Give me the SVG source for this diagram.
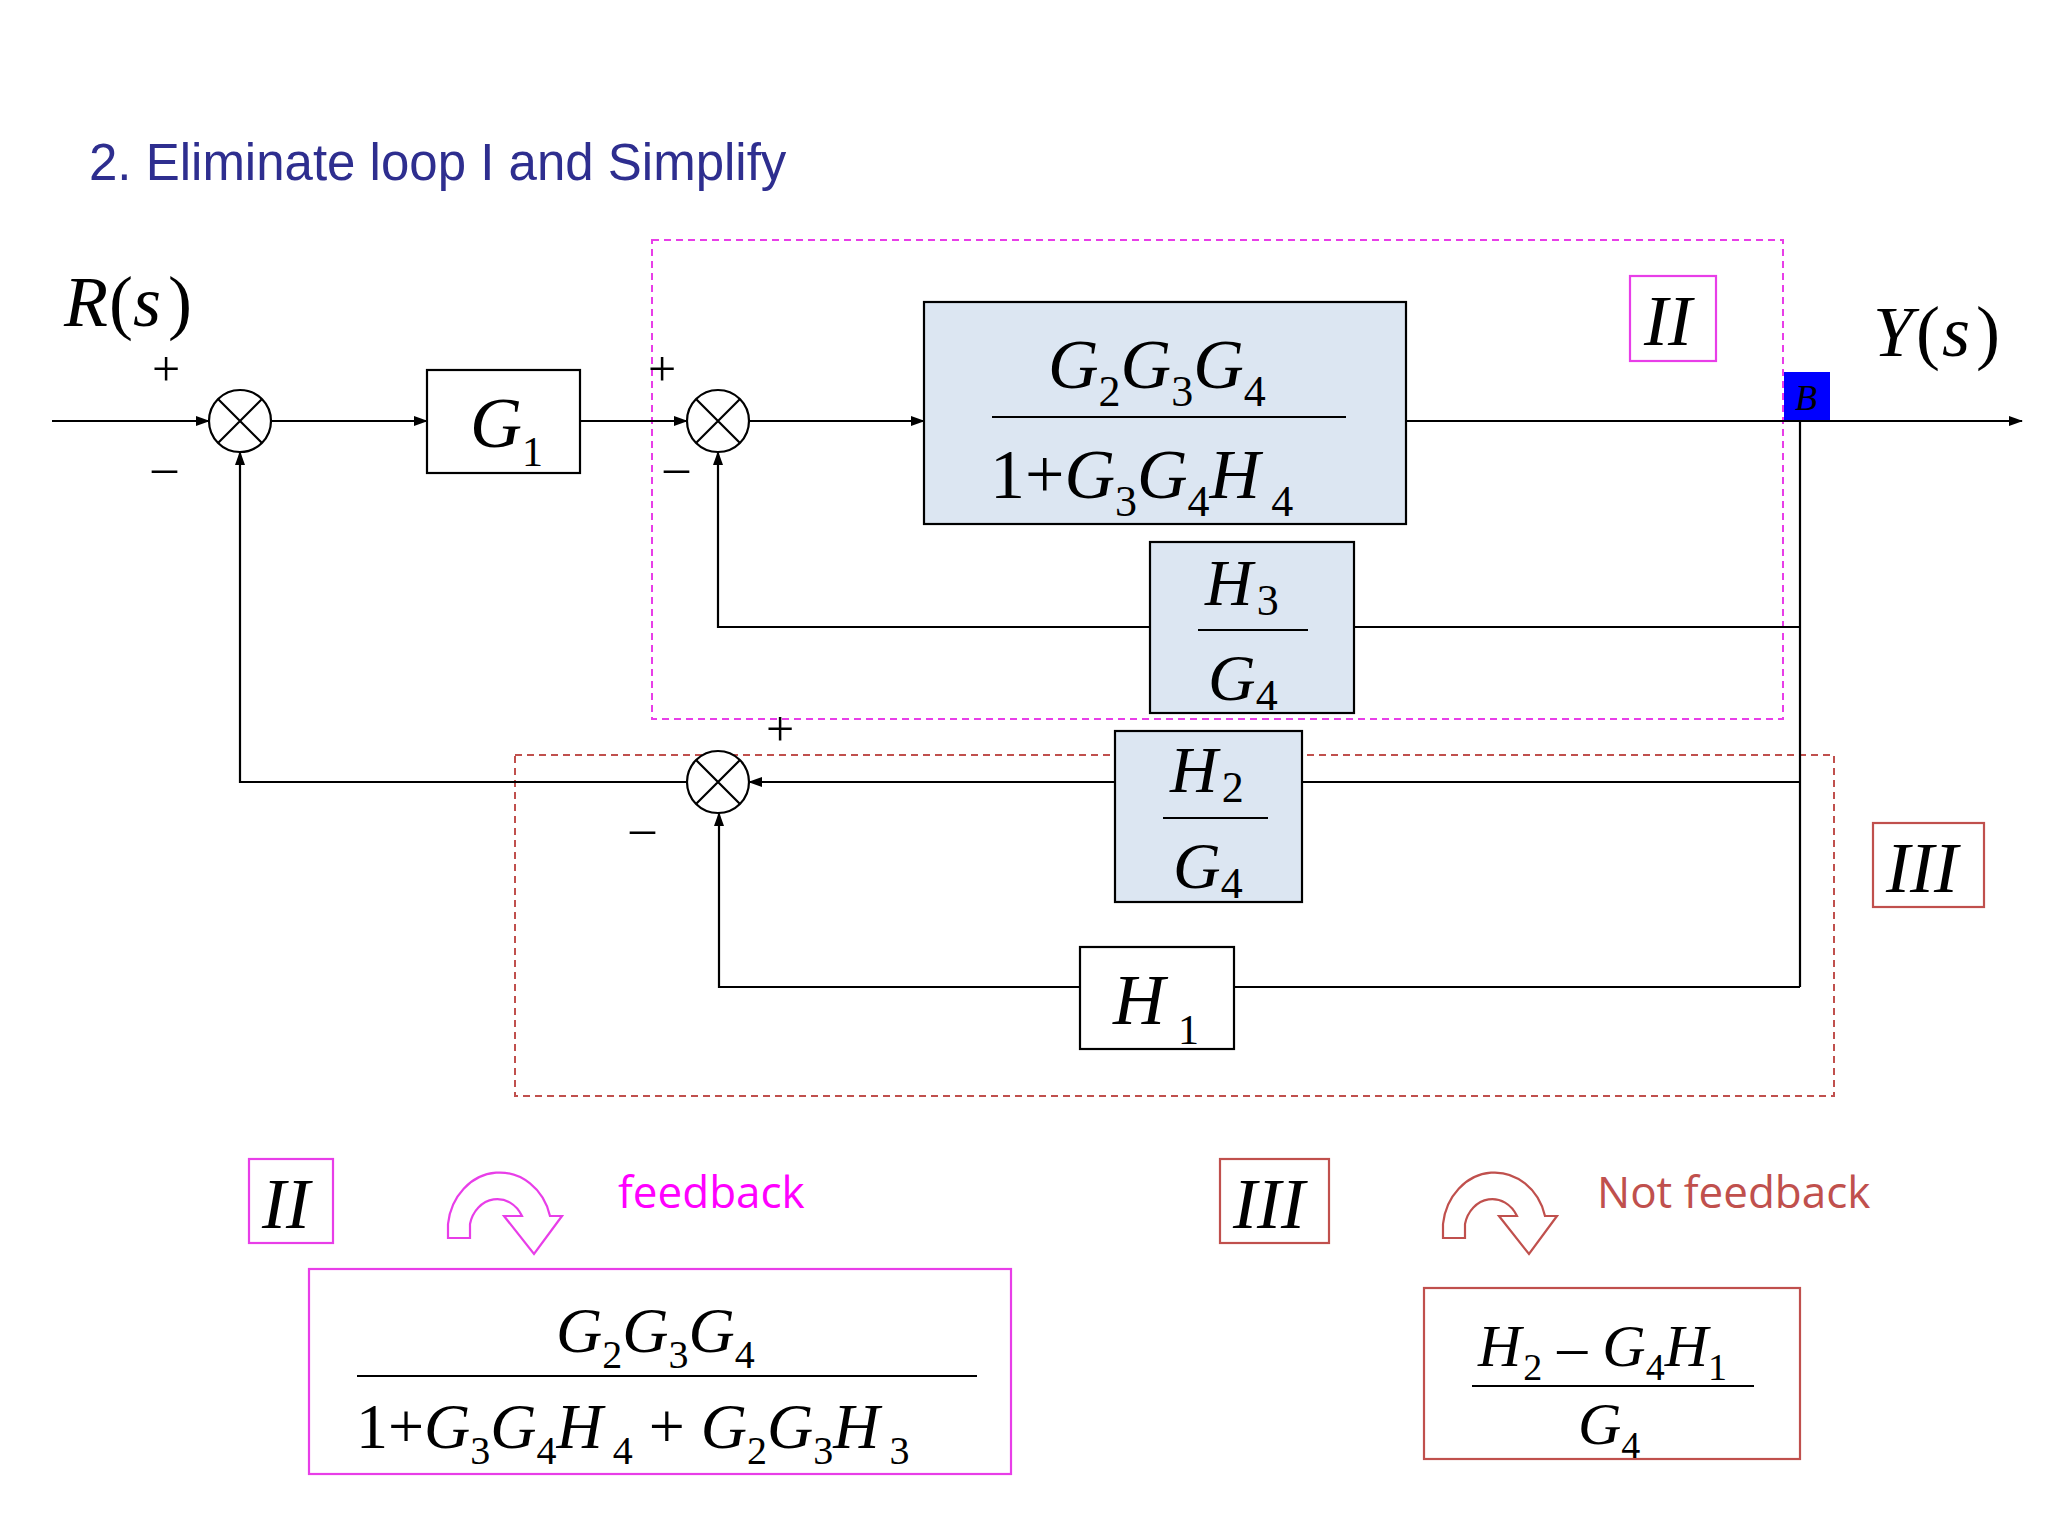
<svg xmlns="http://www.w3.org/2000/svg" width="2048" height="1536" viewBox="0 0 2048 1536">
<defs>
<marker id="ah" markerWidth="14" markerHeight="10" refX="13" refY="5" orient="auto" markerUnits="userSpaceOnUse"><path d="M0,0 L14,5 L0,10 Z" fill="#000"/></marker>
<path id="uturn" d="M2,74 L2,60 A52,58 0 0 1 104,52 L116,52 L88,90 L58,52 L76,52 A28,32 0 0 0 24,60 L24,74 Z"/>
</defs>
<style>
.m{font-family:"Liberation Serif",serif;font-style:italic;fill:#000}
.n{font-family:"Liberation Serif",serif;font-style:normal;fill:#000}
.ln{stroke:#000;stroke-width:2.2;fill:none}
.blk{fill:#dce6f2;stroke:#000;stroke-width:2.2}
.wb{fill:#fff;stroke:#000;stroke-width:2.2}
</style>
<rect width="2048" height="1536" fill="#fff"/>
<text x="89" y="180" font-family="Liberation Sans,Arial,sans-serif" font-size="51" fill="#2e2e8f">2. Eliminate loop I and Simplify</text>

<g id="regions">
<rect x="652" y="240" width="1131" height="479" fill="none" stroke="#e83ee8" stroke-width="2" stroke-dasharray="7,5"/>
<rect x="515" y="755" width="1319" height="341" fill="none" stroke="#c0504d" stroke-width="2" stroke-dasharray="7,5"/>
</g>

<g id="connectors">
<line class="ln" x1="52" y1="421" x2="209" y2="421" marker-end="url(#ah)"/>
<line class="ln" x1="271" y1="421" x2="427" y2="421" marker-end="url(#ah)"/>
<line class="ln" x1="580" y1="421" x2="687" y2="421" marker-end="url(#ah)"/>
<line class="ln" x1="749" y1="421" x2="924" y2="421" marker-end="url(#ah)"/>
<line class="ln" x1="1406" y1="421" x2="2022" y2="421" marker-end="url(#ah)"/>
<line class="ln" x1="1800" y1="421" x2="1800" y2="987"/>
<polyline class="ln" points="1800,627 1354,627"/>
<polyline class="ln" points="1150,627 718,627 718,452" marker-end="url(#ah)"/>
<polyline class="ln" points="1800,782 1302,782"/>
<line class="ln" x1="1115" y1="782" x2="749" y2="782" marker-end="url(#ah)"/>
<polyline class="ln" points="1800,987 1234,987"/>
<polyline class="ln" points="1080,987 719,987 719,813" marker-end="url(#ah)"/>
<polyline class="ln" points="687,782 240,782 240,452" marker-end="url(#ah)"/>
</g>

<g id="sum1"><circle class="wb" cx="240" cy="421" r="31"/><path class="ln" d="M218,399 L262,443 M262,399 L218,443"/></g>
<g id="sum2"><circle class="wb" cx="718" cy="421" r="31"/><path class="ln" d="M696,399 L740,443 M740,399 L696,443"/></g>
<g id="sum3"><circle class="wb" cx="718" cy="782" r="31"/><path class="ln" d="M696,760 L740,804 M740,760 L696,804"/></g>

<g id="signs" class="n" font-size="50">
<text x="152" y="386">+</text><text x="152" y="484">–</text>
<text x="648" y="386">+</text><text x="664" y="484">–</text>
<text x="766" y="746">+</text><text x="630" y="845">–</text>
</g>

<g id="R"><text class="m" x="64" y="326" font-size="72">R</text><text class="n" x="109" y="326" font-size="72">(</text><text class="m" x="133" y="326" font-size="72">s</text><text class="n" x="168" y="326" font-size="72">)</text></g>
<g id="Y"><text class="m" x="1873" y="356" font-size="72">Y</text><text class="n" x="1916" y="356" font-size="72">(</text><text class="m" x="1942" y="356" font-size="72">s</text><text class="n" x="1976" y="356" font-size="72">)</text></g>

<g id="G1"><rect class="wb" x="427" y="370" width="153" height="103"/><text class="m" x="470" y="447" font-size="72">G</text><text class="n" x="522" y="466" font-size="42">1</text></g>

<g id="G234"><rect class="blk" x="924" y="302" width="482" height="222"/>
<text class="m" x="1048" y="388" font-size="70">G<tspan class="n" font-size="44" dy="18">2</tspan><tspan dy="-18">G</tspan><tspan class="n" font-size="44" dy="18">3</tspan><tspan dy="-18">G</tspan><tspan class="n" font-size="44" dy="18">4</tspan></text>
<line class="ln" x1="992" y1="417" x2="1346" y2="417" stroke-width="2.6"/>
<text class="m" x="990" y="498" font-size="70"><tspan class="n">1+</tspan>G<tspan class="n" font-size="44" dy="18">3</tspan><tspan dy="-18">G</tspan><tspan class="n" font-size="44" dy="18">4</tspan><tspan dy="-18">H</tspan><tspan class="n" font-size="44" dy="18"> 4</tspan></text>
</g>

<g id="B"><rect x="1784" y="372" width="46" height="48" fill="#0000ff"/><text class="m" x="1795" y="410" font-size="36">B</text></g>

<g id="H3G4"><rect class="blk" x="1150" y="542" width="204" height="171"/>
<text class="m" x="1205" y="605" font-size="66">H<tspan class="n" font-size="44" dx="4" dy="10">3</tspan></text>
<line class="ln" x1="1198" y1="630" x2="1308" y2="630" stroke-width="2.6"/>
<text class="m" x="1208" y="700" font-size="66">G<tspan class="n" font-size="44" dy="10">4</tspan></text>
</g>

<g id="H2G4"><rect class="blk" x="1115" y="731" width="187" height="171"/>
<text class="m" x="1170" y="792" font-size="66">H<tspan class="n" font-size="44" dx="4" dy="10">2</tspan></text>
<line class="ln" x1="1163" y1="818" x2="1268" y2="818" stroke-width="2.6"/>
<text class="m" x="1173" y="888" font-size="66">G<tspan class="n" font-size="44" dy="10">4</tspan></text>
</g>

<g id="H1"><rect class="wb" x="1080" y="947" width="154" height="102"/><text class="m" x="1113" y="1024" font-size="72">H</text><text class="n" x="1178" y="1044" font-size="42">1</text></g>

<g id="labelII"><rect x="1630" y="276" width="86" height="85" fill="none" stroke="#e83ee8" stroke-width="2.2"/><text class="m" x="1644" y="345" font-size="72">II</text></g>
<g id="labelIII"><rect x="1873" y="823" width="111" height="84" fill="none" stroke="#c0504d" stroke-width="2.2"/><text class="m" x="1886" y="892" font-size="72">III</text></g>

<g id="bII"><rect x="249" y="1159" width="84" height="84" fill="none" stroke="#e83ee8" stroke-width="2.2"/><text class="m" x="262" y="1228" font-size="72">II</text></g>
<g id="arrowII"><use href="#uturn" transform="translate(446,1164)" fill="#fff" stroke="#e83ee8" stroke-width="2.2"/></g>
<text x="618" y="1208" font-family="Open Sans,Liberation Sans,sans-serif" font-size="44" fill="#ff00ff">feedback</text>
<g id="resII"><rect x="309" y="1269" width="702" height="205" fill="#fff" stroke="#e83ee8" stroke-width="2.2"/>
<text class="m" x="556" y="1352" font-size="64">G<tspan class="n" font-size="40" dy="16">2</tspan><tspan dy="-16">G</tspan><tspan class="n" font-size="40" dy="16">3</tspan><tspan dy="-16">G</tspan><tspan class="n" font-size="40" dy="16">4</tspan></text>
<line class="ln" x1="357" y1="1376" x2="977" y2="1376" stroke-width="2.6"/>
<text class="m" x="356" y="1448" font-size="64"><tspan class="n">1+</tspan>G<tspan class="n" font-size="40" dy="16">3</tspan><tspan dy="-16">G</tspan><tspan class="n" font-size="40" dy="16">4</tspan><tspan dy="-16">H</tspan><tspan class="n" font-size="40" dy="16"> 4</tspan><tspan class="n" dy="-16"> + </tspan>G<tspan class="n" font-size="40" dy="16">2</tspan><tspan dy="-16">G</tspan><tspan class="n" font-size="40" dy="16">3</tspan><tspan dy="-16">H</tspan><tspan class="n" font-size="40" dy="16"> 3</tspan></text>
</g>

<g id="bIII"><rect x="1220" y="1159" width="109" height="84" fill="none" stroke="#c0504d" stroke-width="2.2"/><text class="m" x="1233" y="1228" font-size="72">III</text></g>
<g id="arrowIII"><use href="#uturn" transform="translate(1441,1164)" fill="#fff" stroke="#c0504d" stroke-width="2.2"/></g>
<text x="1597" y="1208" font-family="Open Sans,Liberation Sans,sans-serif" font-size="44" fill="#c0504d">Not feedback</text>
<g id="resIII"><rect x="1424" y="1288" width="376" height="171" fill="#fff" stroke="#c0504d" stroke-width="2.2"/>
<text class="m" x="1478" y="1366" font-size="60">H<tspan class="n" font-size="38" dx="2" dy="14">2</tspan><tspan class="n" dy="-14"> – </tspan>G<tspan class="n" font-size="38" dy="14">4</tspan><tspan dy="-14">H</tspan><tspan class="n" font-size="38" dy="14">1</tspan></text>
<line class="ln" x1="1472" y1="1386" x2="1754" y2="1386" stroke-width="2.6"/>
<text class="m" x="1578" y="1444" font-size="60">G<tspan class="n" font-size="38" dy="14">4</tspan></text>
</g>
</svg>
